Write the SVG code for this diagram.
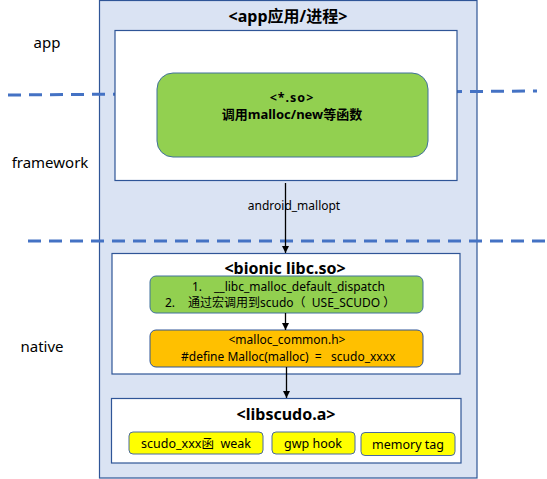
<svg xmlns="http://www.w3.org/2000/svg" width="547" height="479" viewBox="0 0 547 479">
<defs>
<style>
.t{font-family:"Noto Sans","Noto Sans CJK SC",sans-serif;fill:#000;white-space:pre}
.b{font-weight:bold}
.box{fill:#fff;stroke:#2f5597;stroke-width:1.2}
.dash{stroke:#4472c4;stroke-width:3;stroke-dasharray:13 8;fill:none}
.conn{stroke:#000;stroke-width:1.3;fill:none}
.y{fill:#ffff00;stroke:#4a6aa0;stroke-width:1}
</style>
<marker id="ah" viewBox="0 0 10 10" refX="10" refY="5" markerWidth="7" markerHeight="7" markerUnits="userSpaceOnUse" orient="auto"><path d="M0,0L10,5L0,10z" fill="#000"/></marker>
</defs>
<rect width="547" height="479" fill="#fff"/>
<g id="layers">
<text class="t" x="47" y="48" font-size="15" text-anchor="middle">app</text>
<text class="t" x="50" y="168" font-size="15" text-anchor="middle">framework</text>
<text class="t" x="42" y="352" font-size="15" text-anchor="middle">native</text>
</g>
<g id="process">
<rect x="99.5" y="0.5" width="377.5" height="477.5" fill="#dae3f3" stroke="#2f5597" stroke-width="1.2"/>
<text class="t b" x="288" y="22" font-size="16" text-anchor="middle">&lt;app应用/进程&gt;</text>
</g>
<line class="dash" x1="8" y1="95" x2="537" y2="91"/>
<line class="dash" x1="28" y1="241" x2="547" y2="241"/>
<g id="app">
<rect class="box" x="115" y="30.5" width="342" height="150"/>
</g>
<g id="so">
<rect x="157" y="73" width="271" height="84" rx="16" fill="#92d050" stroke="#41719c" stroke-width="1"/>
<text class="t b" x="292" y="102" font-size="12.5" text-anchor="middle" letter-spacing="1">&lt;*.so&gt;</text>
<text class="t b" x="292" y="119" font-size="13" text-anchor="middle">调用malloc/new等函数</text>
</g>
<g id="bionic">
<rect class="box" x="112" y="253.5" width="348" height="120.5"/>
<text class="t b" x="285" y="274" font-size="16" text-anchor="middle">&lt;bionic libc.so&gt;</text>
</g>
<g id="dispatch">
<rect x="150" y="276" width="273" height="37" rx="6" fill="#92d050" stroke="#41719c" stroke-width="1"/>
<text class="t" x="192" y="291" font-size="12">1.</text>
<text class="t" x="214" y="291" font-size="12">__libc_malloc_default_dispatch</text>
<text class="t" x="165" y="307" font-size="12">2.</text>
<text class="t" x="188" y="307" font-size="12">通过宏调用到scudo（  USE_SCUDO ）</text>
</g>
<g id="malloc_common">
<rect x="150" y="330" width="273" height="37" rx="6" fill="#ffc000" stroke="#2f5597" stroke-width="1"/>
<text class="t" x="287" y="344" font-size="12" text-anchor="middle">&lt;malloc_common.h&gt;</text>
<text class="t" x="181" y="361" font-size="12">#define Malloc(malloc)  =   scudo_xxxx</text>
</g>
<g id="libscudo">
<rect class="box" x="111.5" y="398.5" width="349.5" height="64.5"/>
<text class="t b" x="286" y="420" font-size="16" text-anchor="middle">&lt;libscudo.a&gt;</text>
</g>
<g id="weak">
<rect class="y" x="129" y="432" width="134" height="22" rx="4"/>
<text class="t" x="196" y="448" font-size="12.5" text-anchor="middle">scudo_xxx函  weak</text>
</g>
<g id="gwp">
<rect class="y" x="272" y="432" width="83" height="22" rx="4"/>
<text class="t" x="313" y="448" font-size="12.5" text-anchor="middle">gwp hook</text>
</g>
<g id="mtag">
<rect class="y" x="361" y="432.5" width="94" height="23" rx="4"/>
<text class="t" x="408" y="449" font-size="12.5" text-anchor="middle">memory tag</text>
</g>
<g id="connectors">
<line class="conn" x1="285.5" y1="183" x2="285.5" y2="253" marker-end="url(#ah)"/>
<text class="t" x="294" y="210" font-size="12" text-anchor="middle" fill="#1f1f3f">android_mallopt</text>
<line class="conn" x1="285.5" y1="313" x2="285.5" y2="330" marker-end="url(#ah)"/>
<line class="conn" x1="286.5" y1="367" x2="286.5" y2="398" marker-end="url(#ah)"/>
</g>
</svg>
